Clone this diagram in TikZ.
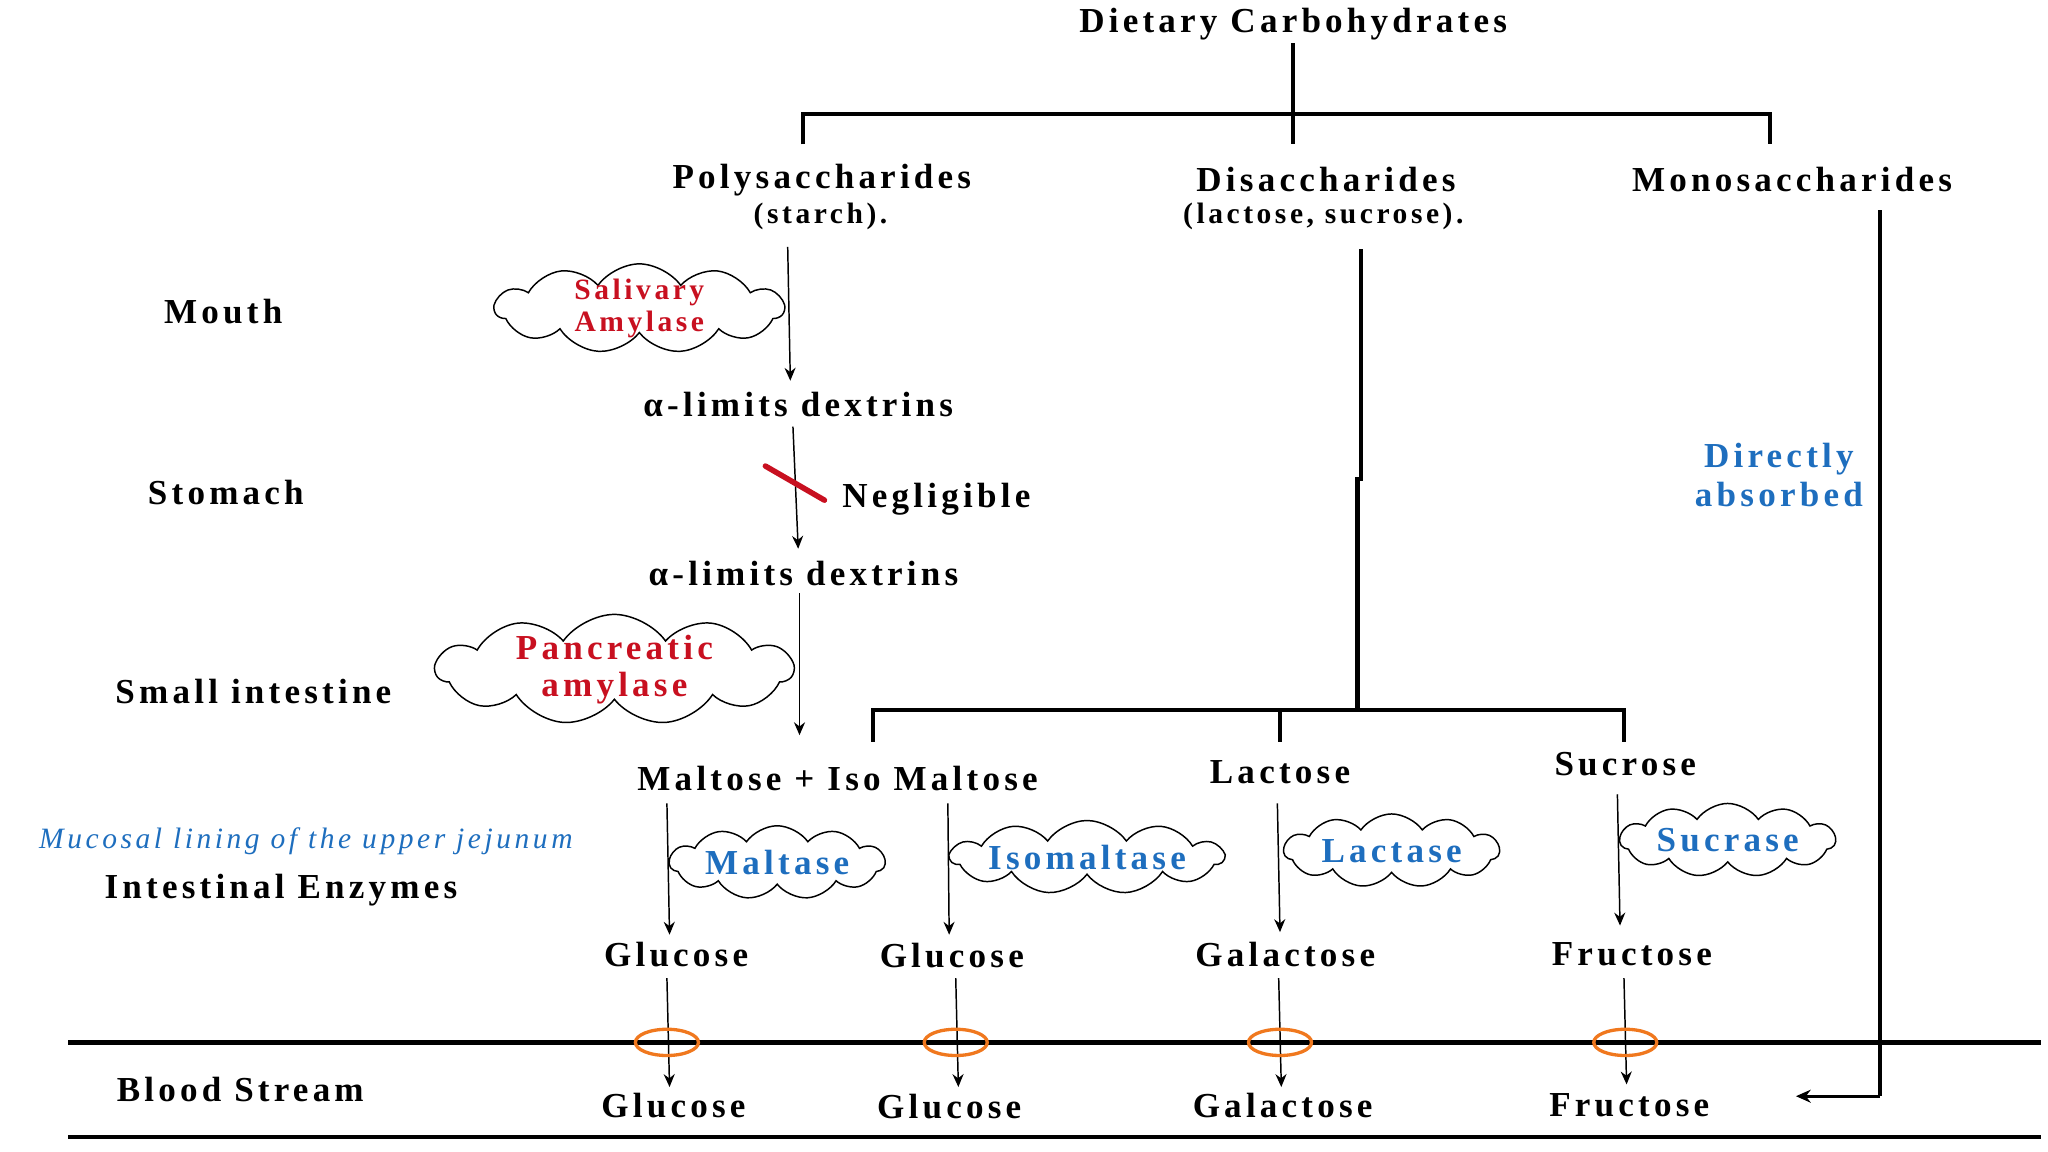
\documentclass[tikz,border=0pt]{standalone}
\usepackage{fontspec}
\setmainfont{Liberation Serif}[LetterSpace=12]
\usetikzlibrary{shapes.symbols,shapes.geometric,arrows.meta}
\definecolor{dred}{RGB}{200,16,32}
\definecolor{mblue}{RGB}{30,110,190}
\definecolor{orng}{RGB}{240,120,30}
\begin{document}
\begin{tikzpicture}[x=0.25mm,y=-0.25mm,
 t/.style={font=\fontsize{19}{21}\selectfont\bfseries,inner sep=1pt},
 ts/.style={font=\fontsize{16}{18}\selectfont\bfseries,inner sep=1pt},
 thick1/.style={line width=2.2pt},
 arr/.style={-{Stealth[length=7pt,width=6pt]},line width=0.8pt},
 cl/.style={cloud,cloud puffs=11,cloud puff arc=110,draw,line width=0.8pt,aspect=3,inner sep=0pt},
 ring/.style={ellipse,draw=orng,line width=1.8pt,minimum width=12mm,minimum height=5mm,inner sep=0}]
\useasboundingbox (0,0) rectangle (1560,877);
\node[t] (dc) at (985,18) {Dietary Carbohydrates};
\coordinate (j0) at (985,87);
\draw[thick1] (985,33) -- (j0);
\draw[thick1] (612,110) -- (612,87) -- (1348,87) -- (1348,110);
\draw[thick1] (j0) -- (985,110);
\node[t] (poly) at (626,137) {Polysaccharides};
\node[ts] (starch) at (625,165) {(starch).};
\node[t] (di) at (1010,137) {Disaccharides};
\node[ts] (lac) at (1008,165) {(lactose, sucrose).};
\node[t] (mono) at (1365,137) {Monosaccharides};
\node[t] (mouth) at (170,237) {Mouth};
\node[cl,minimum width=55mm,minimum height=17mm] (sal) at (487,235) {};
\node[font=\fontsize{16}{17}\selectfont\bfseries,text=dred,align=center] at (sal) {Salivary\\Amylase};
\node[t] (ad1) at (608,308) {α-limits dextrins};
\draw[arr] (600,188) -- (602,290);
\node[t] (stom) at (172,375) {Stomach};
\node[t,anchor=west] (neg) at (640,380) {Negligible};
\node[t] (ad2) at (612,437) {α-limits dextrins};
\draw[arr] (604,325) -- (608,418);
\draw[dred,line width=3pt,line cap=round] (583,355) -- (628,381);
\node[t] (si) at (193,527) {Small intestine};
\node[cl,minimum width=68mm,minimum height=21mm] (pan) at (468,510) {};
\node[font=\fontsize{19}{20}\selectfont\bfseries,text=dred,align=center] at (pan) {Pancreatic\\amylase};
\node[t] (mal) at (638,593) {Maltose + Iso Maltose};
\draw[arr] (609,452) -- (609,560);
\draw[thick1] (1037,190) -- (1037,365) -- (1034,365) -- (1034,541);
\draw[thick1] (665,565) -- (665,541) -- (1237,541) -- (1237,565);
\draw[thick1] (975,541) -- (975,565);
\node[t] (lact) at (975,588) {Lactose};
\node[t] (sucr) at (1238,582) {Sucrose};
\node[font=\fontsize{16}{18}\selectfont\itshape,text=mblue] (muc) at (233,641) {Mucosal lining of the upper jejunum};
\node[t] (ie) at (214,678) {Intestinal Enzymes};
\node[cl,minimum width=41mm,minimum height=14mm] (c1) at (592,657) {};
\node[t,text=mblue] at (c1) {Maltase};
\node[cl,minimum width=52mm,minimum height=14mm] (c2) at (828,653) {};
\node[t,text=mblue] at (c2) {Isomaltase};
\node[cl,minimum width=41mm,minimum height=14mm] (c3) at (1060,648) {};
\node[t,text=mblue] at (c3) {Lactase};
\node[cl,minimum width=41mm,minimum height=14mm] (c4) at (1316,640) {};
\node[t,text=mblue] at (c4) {Sucrase};
\node[t] (g1) at (515,727) {Glucose};
\node[t] (g2) at (725,728) {Glucose};
\node[t] (ga) at (979,727) {Galactose};
\node[t] (fr) at (1243,727) {Fructose};
\draw[arr] (508,612) -- (510,712);
\draw[arr] (722,612) -- (723,712);
\draw[arr] (973,612) -- (975,710);
\draw[arr] (1232,605) -- (1234,705);
\draw[line width=2.5pt] (52,794) -- (1555,794);
\draw[line width=2.5pt] (52,866) -- (1555,866);
\node[t] (bs) at (183,830) {Blood Stream};
\node[t] (b1) at (513,842) {Glucose};
\node[t] (b2) at (723,843) {Glucose};
\node[t] (b3) at (977,842) {Galactose};
\node[t] (b4) at (1241,842) {Fructose};
\draw[arr] (508,745) -- (510,828);
\draw[arr] (728,745) -- (730,828);
\draw[arr] (974,745) -- (976,828);
\draw[arr] (1237,745) -- (1239,826);
\node[ring] (r1) at (508,794) {};
\node[ring] (r2) at (728,794) {};
\node[ring] (r3) at (975,794) {};
\node[ring] (r4) at (1238,794) {};
\coordinate (m1) at (1432,160);
\coordinate (m2) at (1432,835);
\draw[line width=2.5pt] (m1) -- (m2);
\draw[-{Stealth[length=8pt,width=7pt]},line width=1.4pt] (m2) -- (1368,835);
\node[t,text=mblue,align=center] (da) at (1355,362) {Directly\\absorbed};
\end{tikzpicture}
\end{document}
